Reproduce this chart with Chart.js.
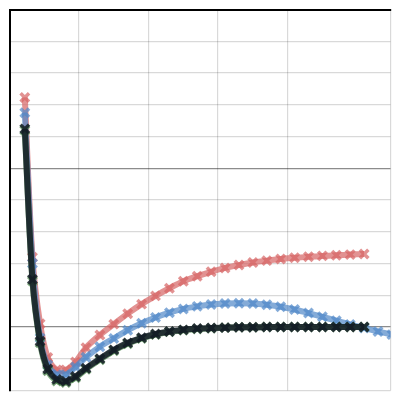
<!DOCTYPE html><html><head><script src="https://cdn.jsdelivr.net/npm/chart.js"></script>
<style>html,body{margin:0;padding:0;background:#fff}#w{width:400px;height:400px}</style></head><body><div id="w"><canvas id="c"></canvas></div>
<script>
const xsEarly=[0.22,0.33,0.44,0.55,0.68,0.81,0.95];
const xsLate=[1.1,1.3,1.5,1.7,1.9,2.1,2.3,2.5,2.7,2.9,3.1,3.3,3.5,3.7,3.9,4.1,4.3,4.5,4.7,4.9,5.1];
const xsBlueExtra=[5.3,5.5];
const redY=[7.23,2.2,0.1,-0.96,-1.35,-1.35,-1.1,-0.65,-0.25,0.09,0.42,0.72,0.98,1.22,1.44,1.6,1.74,1.86,1.95,2.03,2.09,2.14,2.18,2.21,2.24,2.26,2.28,2.3];
const blueY=[6.75,2.0,-0.35,-1.2,-1.5,-1.5,-1.26,-0.95,-0.62,-0.36,-0.1,0.12,0.3,0.45,0.57,0.65,0.71,0.74,0.75,0.74,0.7,0.64,0.55,0.44,0.32,0.2,0.08,-0.03,-0.14,-0.24];
const blackY=[6.24,1.5,-0.45,-1.32,-1.65,-1.71,-1.56,-1.3,-1.0,-0.72,-0.5,-0.34,-0.22,-0.14,-0.09,-0.05,-0.03,-0.02,-0.01,-0.01,0,0,0,0,0,0,0,0];
const greenY=[6.2,1.45,-0.5,-1.38,-1.7,-1.75,-1.6,-1.33,-1.03,-0.75,-0.53,-0.36,-0.24,-0.15,-0.1,-0.06,-0.04,-0.02,-0.01,-0.01,0,0,0,0,0,0,0,0];
const xs=xsEarly.concat(xsLate), xsB=xs.concat(xsBlueExtra);
const pts=(X,Y)=>Y.map((y,i)=>({x:X[i],y}));
const ds=(label,X,Y,c)=>({label,data:pts(X,Y),borderColor:c,backgroundColor:c,borderWidth:6,pointStyle:'crossRot',pointRadius:6,pointBorderWidth:3.5,tension:0.3,fill:false});
const grid={color:c=>(c.tick&&(c.tick.value===0||c.tick.value===5))?'rgba(0,0,0,0.45)':'rgba(0,0,0,0.15)',lineWidth:1.2,drawTicks:false,tickLength:0};
new Chart(document.getElementById('c'),{type:'line',data:{datasets:[
ds('black',xs,blackY,'rgba(20,28,38,0.85)'),
ds('green',xs,greenY,'rgba(70,130,70,0.7)'),
ds('blue',xsB,blueY,'rgba(80,135,200,0.7)'),
ds('red',xs,redY,'rgba(214,100,100,0.7)')]},
options:{animation:false,responsive:true,maintainAspectRatio:false,layout:{padding:0},
plugins:{legend:{display:false},tooltip:{enabled:false}},
scales:{x:{type:'linear',position:'top',min:0,max:400/73,ticks:{display:false,stepSize:1,padding:0},grid:grid,border:{color:'#000',width:2}},
y:{min:-2,max:10,ticks:{display:false,stepSize:1,padding:0},grid:grid,border:{color:'#000',width:2}}}}});
</script></body></html>
